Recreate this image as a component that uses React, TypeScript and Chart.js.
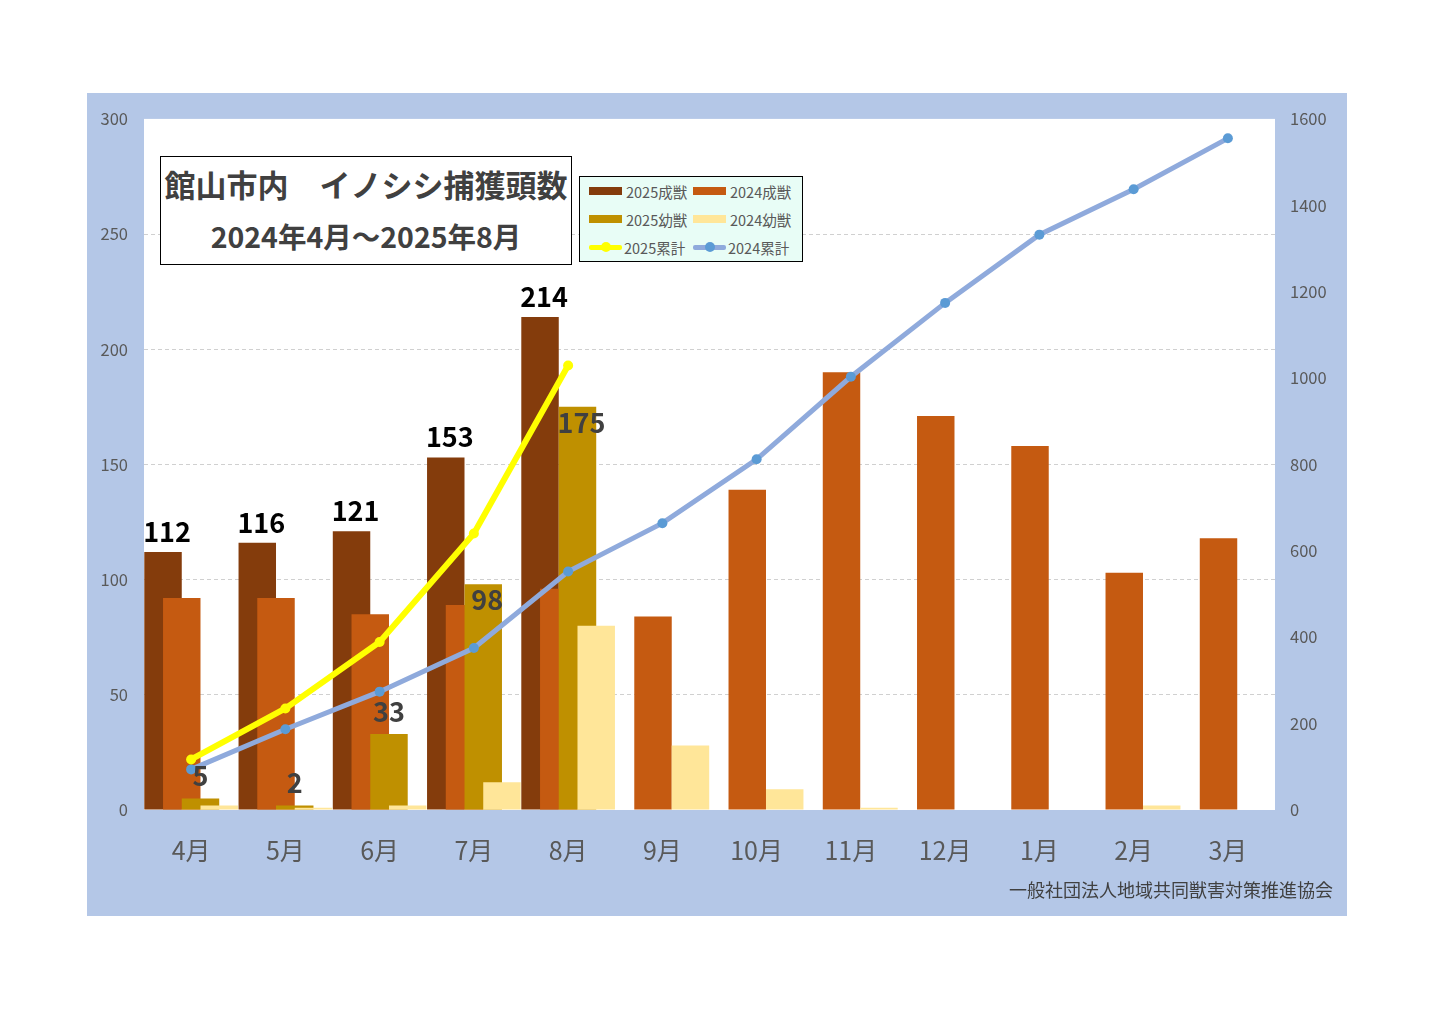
import React, { useEffect, useRef } from 'react';
import { Chart, registerables } from 'chart.js';

Chart.register(...registerables);

const months = ['4月', '5月', '6月', '7月', '8月', '9月', '10月', '11月', '12月', '1月', '2月', '3月'];
const adult2025: (number | null)[] = [112, 116, 121, 153, 214, null, null, null, null, null, null, null];
const adult2024 = [92, 92, 85, 89, 96, 84, 139, 190, 171, 158, 103, 118];
const young2025: (number | null)[] = [5, 2, 33, 98, 175, null, null, null, null, null, null, null];
const young2024 = [2, 1, 2, 12, 80, 28, 9, 1, 0, 0, 2, 0];
const cum2025: (number | null)[] = [117, 235, 389, 640, 1029, null, null, null, null, null, null, null];
const cum2024 = [94, 187, 274, 375, 552, 664, 812, 1003, 1174, 1332, 1437, 1555];

const seriesNames = ['2025成獣', '2024成獣', '2025幼獣', '2024幼獣', '2025累計', '2024累計'];
const seriesColors = ['#843c0c', '#c55a11', '#bf9000', '#ffe699', '#ffff00', '#8faadc'];
const pointColor2024 = '#5b9bd5';

const leftMax = 300;
const leftStep = 50;
const rightMax = 1600;
const rightStep = 200;

const titleLine1 = '館山市内　イノシシ捕獲頭数';
const titleLine2 = '2024年4月～2025年8月';
const footer = '一般社団法人地域共同獣害対策推進協会';

const FONT = '"Noto Sans CJK JP", "Noto Sans", sans-serif';

const drawOrderPlugin = {
  id: 'drawOrder',
  beforeDraw(chart: any) {
    const { ctx, chartArea } = chart;
    ctx.save();
    ctx.fillStyle = '#ffffff';
    ctx.fillRect(chartArea.left, chartArea.top, chartArea.right - chartArea.left, chartArea.bottom - chartArea.top);
    ctx.restore();
  },
  beforeDatasetsDraw(chart: any) {
    const metas = chart.getSortedVisibleDatasetMetas();
    const bars = metas.filter((m: any) => m.type === 'bar').sort((a: any, b: any) => a.index - b.index);
    const lines = metas.filter((m: any) => m.type === 'line').sort((a: any, b: any) => b.index - a.index);
    const ctx = chart.ctx;
    const ca = chart.chartArea;
    ctx.save();
    ctx.beginPath();
    ctx.rect(ca.left, ca.top - 10, ca.right - ca.left, ca.bottom - ca.top + 10);
    ctx.clip();
    [...bars, ...lines].forEach((m: any) => m.controller.draw());
    ctx.restore();
    return false;
  },
  afterDraw(chart: any) {
    const ctx = chart.ctx;
    ctx.save();
    ctx.textAlign = 'center';
    const m0 = chart.getDatasetMeta(0);
    ctx.font = `bold 27px ${FONT}`;
    ctx.fillStyle = '#000000';
    ctx.textBaseline = 'bottom';
    m0.data.forEach((el: any, i: number) => {
      const v = adult2025[i];
      if (v == null) return;
      ctx.fillText(String(v), el.x + 4, el.y - 7);
    });
    const m2 = chart.getDatasetMeta(2);
    ctx.fillStyle = '#404040';
    m2.data.forEach((el: any, i: number) => {
      const v = young2025[i];
      if (v == null) return;
      if (v >= 50) {
        ctx.textBaseline = 'top';
        ctx.fillText(String(v), el.x + 4, el.y + 2);
      } else {
        ctx.textBaseline = 'bottom';
        ctx.fillText(String(v), el.x, el.y - 9);
      }
    });
    ctx.restore();
  },
};

function ChartCanvas() {
  const ref = useRef<HTMLCanvasElement | null>(null);
  useEffect(() => {
    if (!ref.current) return;
    const barCommon = {
      type: 'bar' as const,
      yAxisID: 'y',
      categoryPercentage: 0.795,
      barPercentage: 2.0,
      borderWidth: 0,
    };
    const chart = new Chart(ref.current, {
      type: 'bar',
      data: {
        labels: months,
        datasets: [
          { ...barCommon, label: seriesNames[0], data: adult2025, backgroundColor: seriesColors[0] },
          { ...barCommon, label: seriesNames[1], data: adult2024, backgroundColor: seriesColors[1] },
          { ...barCommon, label: seriesNames[2], data: young2025, backgroundColor: seriesColors[2] },
          { ...barCommon, label: seriesNames[3], data: young2024, backgroundColor: seriesColors[3] },
          {
            type: 'line' as const,
            label: seriesNames[4],
            data: cum2025,
            yAxisID: 'y1',
            borderColor: seriesColors[4],
            backgroundColor: seriesColors[4],
            pointBackgroundColor: seriesColors[4],
            pointBorderWidth: 0,
            pointRadius: 5,
            borderWidth: 6,
            tension: 0,
          } as any,
          {
            type: 'line' as const,
            label: seriesNames[5],
            data: cum2024,
            yAxisID: 'y1',
            borderColor: seriesColors[5],
            backgroundColor: pointColor2024,
            pointBackgroundColor: pointColor2024,
            pointBorderWidth: 0,
            pointRadius: 5,
            borderWidth: 5,
            tension: 0,
          } as any,
        ],
      },
      options: {
        animation: false,
        responsive: false,
        layout: { padding: { top: 25, left: 0, right: 0, bottom: 0 } },
        plugins: {
          legend: { display: false },
          title: { display: false },
          tooltip: { enabled: false },
        },
        scales: {
          x: {
            grid: { display: false, drawTicks: false },
            border: { display: false },
            ticks: { color: '#595959', font: { size: 25, family: FONT }, padding: 25 },
            afterFit: (s: any) => { s.height = 106; },
          },
          y: {
            position: 'left',
            min: 0,
            max: leftMax,
            grid: {
              color: (c: any) => (c.tick && (c.tick.value === 0 || c.tick.value === leftMax) ? 'rgba(0,0,0,0)' : '#d0d0d0'),
              drawTicks: false,
              lineWidth: 1,
            },
            border: { display: false, dash: [4, 3] },
            ticks: { stepSize: leftStep, color: '#595959', font: { size: 16.5, family: FONT }, padding: 16 },
            afterFit: (s: any) => { s.width = 57; },
          },
          y1: {
            position: 'right',
            min: 0,
            max: rightMax,
            grid: { display: false, drawTicks: false },
            border: { display: false },
            ticks: {
              stepSize: rightStep,
              color: '#595959',
              font: { size: 16.5, family: FONT },
              padding: 15,
              callback: (v: any) => String(v),
            },
            afterFit: (s: any) => { s.width = 72; },
          },
        },
      },
      plugins: [drawOrderPlugin],
    });
    return () => chart.destroy();
  }, []);
  return <canvas ref={ref} width={1260} height={823} style={{ position: 'absolute', left: 0, top: 0 }} />;
}

const swatchBar = (color: string) => (
  <span style={{ display: 'inline-block', width: 33, height: 8, background: color, marginRight: 4 }} />
);
const swatchLine = (lineColor: string, dotColor: string) => (
  <span style={{ position: 'relative', display: 'inline-block', width: 33, height: 10, marginRight: 2 }}>
    <span style={{ position: 'absolute', left: 0, top: 3, width: 33, height: 5, background: lineColor, borderRadius: 2 }} />
    <span style={{ position: 'absolute', left: 12, top: 0, width: 10, height: 10, background: dotColor, borderRadius: 5 }} />
  </span>
);

export default function App() {
  const legendItems = [
    { name: seriesNames[0], sw: swatchBar(seriesColors[0]) },
    { name: seriesNames[1], sw: swatchBar(seriesColors[1]) },
    { name: seriesNames[2], sw: swatchBar(seriesColors[2]) },
    { name: seriesNames[3], sw: swatchBar(seriesColors[3]) },
    { name: seriesNames[4], sw: swatchLine(seriesColors[4], seriesColors[4]) },
    { name: seriesNames[5], sw: swatchLine(seriesColors[5], pointColor2024) },
  ];
  return (
    <div style={{ position: 'absolute', left: 0, top: 0, width: 1448, height: 1024, background: '#ffffff', fontFamily: FONT }}>
      <div style={{ position: 'absolute', left: 87, top: 93, width: 1260, height: 823, background: '#b4c7e7' }}>
        <ChartCanvas />
        <div
          style={{
            position: 'absolute', left: 73, top: 63, width: 410, height: 107, background: '#ffffff',
            border: '1.5px solid #000', color: '#404040', fontWeight: 'bold', textAlign: 'center',
          }}
        >
          <div style={{ fontSize: 31, marginTop: 6, lineHeight: '42px', whiteSpace: 'nowrap' }}>{titleLine1}</div>
          <div style={{ fontSize: 28.5, marginTop: 11, lineHeight: '40px', whiteSpace: 'nowrap' }}>{titleLine2}</div>
        </div>
        <div
          style={{
            position: 'absolute', left: 492, top: 83, width: 222, height: 84, background: '#e8fdf6',
            border: '1.5px solid #000', color: '#595959', fontSize: 14.5,
            display: 'grid', gridTemplateColumns: '113px 109px', gridAutoRows: '28px', paddingTop: 0,
          }}
        >
          {legendItems.map((it, i) => (
            <div key={i} style={{ display: 'flex', alignItems: 'center', paddingLeft: i % 2 === 0 ? 9 : 0, whiteSpace: 'nowrap' }}>
              {it.sw}
              <span>{it.name}</span>
            </div>
          ))}
        </div>
        <div style={{ position: 'absolute', right: 14, top: 783, fontSize: 18, color: '#404040', whiteSpace: 'nowrap' }}>
          {footer}
        </div>
      </div>
    </div>
  );
}
